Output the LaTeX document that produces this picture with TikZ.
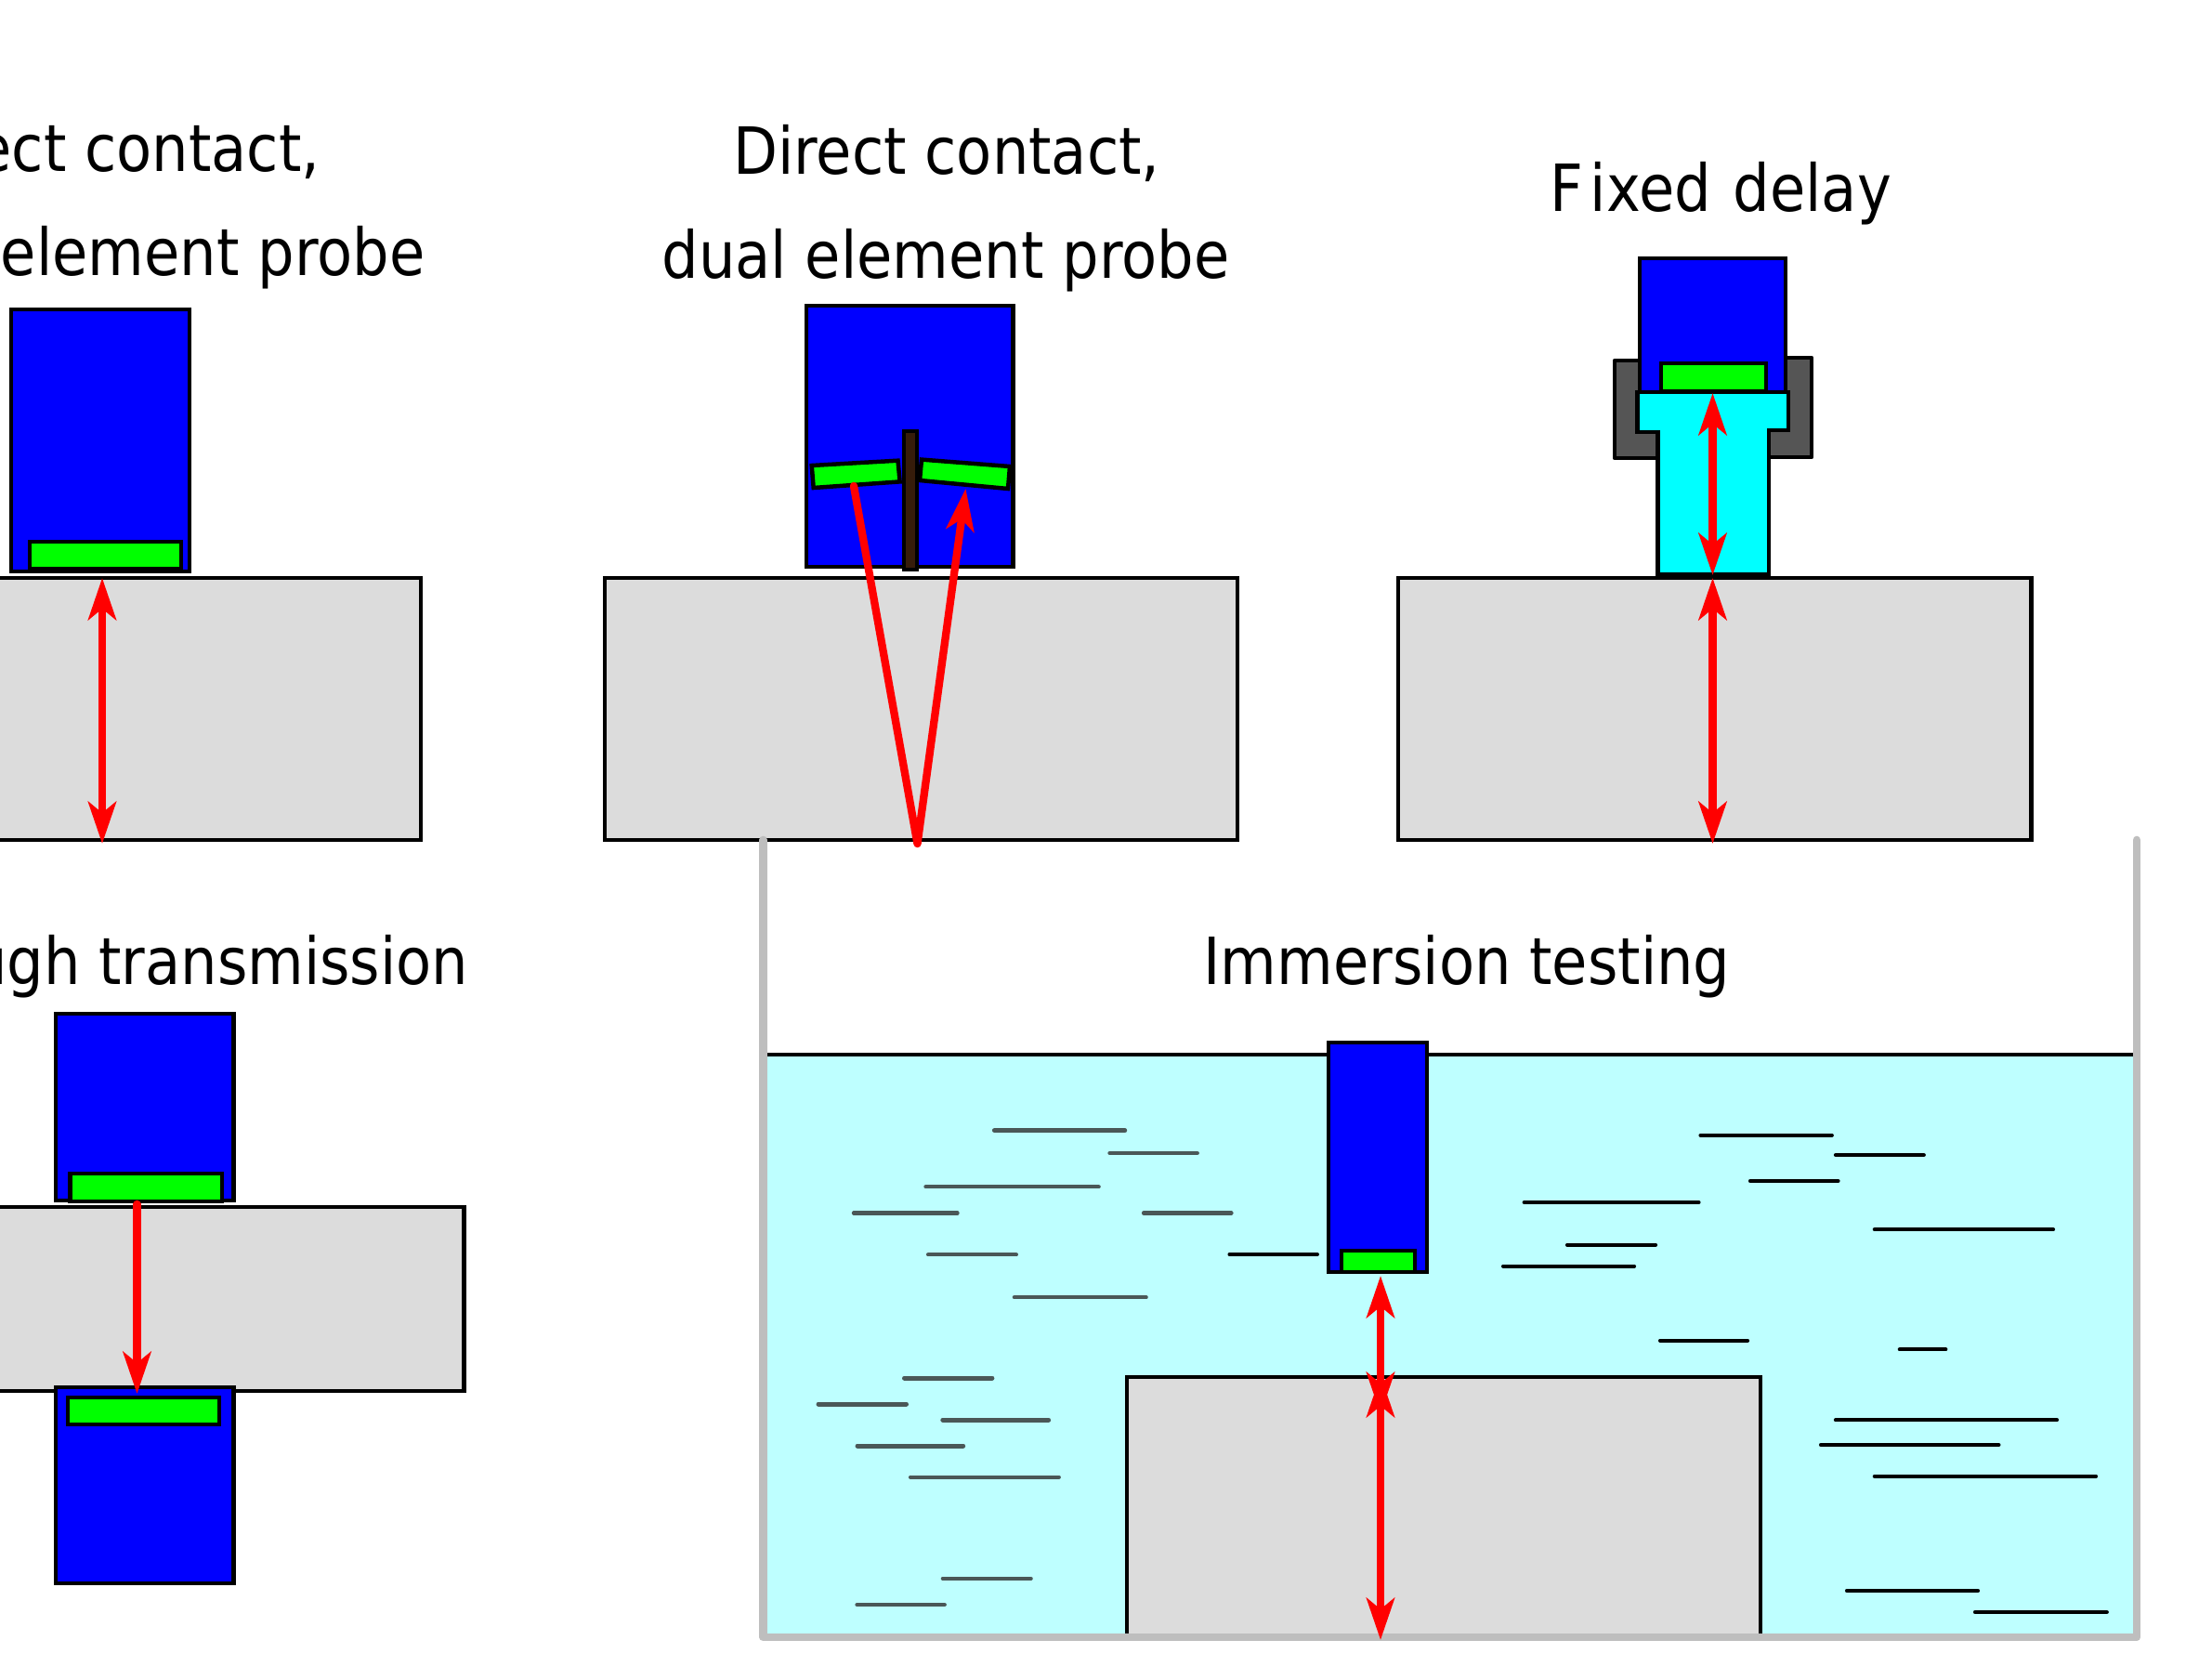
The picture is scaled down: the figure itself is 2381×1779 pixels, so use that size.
\documentclass[tikz,border=0pt]{standalone}
\usepackage{fontspec}
\setmainfont[FakeStretch=0.89]{DejaVu Sans}
\usetikzlibrary{arrows.meta}
\definecolor{probeblue}{HTML}{0000FF}
\definecolor{elemgreen}{HTML}{00FF00}
\definecolor{partgrey}{HTML}{DCDCDC}
\definecolor{holdergrey}{HTML}{555555}
\definecolor{delaycyan}{HTML}{00FFFF}
\definecolor{watercyan}{HTML}{BEFFFF}
\definecolor{tankgrey}{HTML}{BEBEBE}
\definecolor{dividerbrown}{HTML}{361C0A}
\definecolor{ripplegrey}{HTML}{4A5757}
\tikzset{
  x=0.3pt,y=-0.3pt,
  outlined/.style={draw=black,line width=1.35pt,line join=miter},
  part/.style={outlined,fill=partgrey},
  probe/.style={outlined,fill=probeblue},
  element/.style={outlined,fill=elemgreen},
  holder/.style={outlined,fill=holdergrey,line join=round},
  delay/.style={outlined,fill=delaycyan},
  redtip/.tip={Stealth[length=13.5pt,width=9pt,inset=3.6pt]},
  wave/.style={draw=red,line width=2.5pt},
  ripple/.style={draw=ripplegrey,line width=1.25pt,line cap=round},
  ripplek/.style={draw=black,line width=1.25pt,line cap=round},
  caption/.style={font=\fontsize{21pt}{21pt}\selectfont,inner sep=0pt,anchor=base}
}
\begin{document}
\begin{tikzpicture}
\useasboundingbox (0,0) rectangle (2381,1779);
% captions
\node[caption,anchor=base east] (t1a) at (345,185) {Direct contact,};
\node[caption,anchor=base east] (t1b) at (458,297) {single element probe};
\node[caption] (t2a) at (1019,188) {Direct contact,};
\node[caption] (t2b) at (1018,300) {dual element probe};
\node[caption] (t3) at (1852,228) {F\kern2.4pt ixed\kern1.2pt\ delay};
\node[caption,anchor=base east] (t4) at (505,1059) {Through transmission};
\node[caption] (t5) at (1579,1059) {Immersion testing};
% panel 1
\draw[part] (-20,622) rectangle (453,904);
\draw[probe] (12,333) rectangle (204,615);
\draw[element] (32,583) rectangle (195,612);
\coordinate (a1t) at (110,622);
\coordinate (a1b) at (110,908);
\draw[wave,{redtip}-{redtip}] (a1t) -- (a1b);
% panel 2
\draw[part] (651,622) rectangle (1332,904);
\draw[probe] (868,329) rectangle (1090.5,610);
\draw[element] (873.7,501) -- (966.5,495.7) -- (968.6,518.4) -- (875.7,525) -- cycle;
\draw[element] (992,494.6) -- (1087,502) -- (1085,526) -- (990,517) -- cycle;
\draw[outlined,fill=dividerbrown] (973,464) rectangle (987,613);
\coordinate (a2s) at (919,523);
\coordinate (a2v) at (987.5,908);
\coordinate (a2e) at (1039.5,526);
\draw[wave,line cap=round,line join=round,-{redtip}] (a2s) -- (a2v) -- (a2e);
% panel 3
\draw[part] (1505,622) rectangle (2186.5,904);
\draw[holder] (1738,388) -- (1790,388) -- (1790,493) -- (1738,493) -- cycle;
\draw[holder] (1900,385) -- (1950,385) -- (1950,492) -- (1900,492) -- cycle;
\draw[probe] (1765,278) rectangle (1922,425);
\draw[element] (1788,391) rectangle (1901,421);
\draw[delay] (1762.6,422) -- (1762.6,465) -- (1784.7,465) -- (1784.7,618) -- (1904,618) -- (1904,463) -- (1925,463) -- (1925,422) -- cycle;
\coordinate (a3a) at (1843.5,423);
\coordinate (a3b) at (1843.5,619);
\coordinate (a3c) at (1843.5,622);
\coordinate (a3d) at (1843.5,908);
\draw[wave,{redtip}-{redtip}] (a3a) -- (a3b);
\draw[wave,{redtip}-{redtip}] (a3c) -- (a3d);
% panel 4
\draw[part] (-20,1299) rectangle (499.5,1497);
\draw[probe] (60,1091) rectangle (251.5,1292);
\draw[element] (75.5,1263) rectangle (239,1293);
\draw[probe] (60,1493) rectangle (251.5,1704);
\draw[element] (73,1504) rectangle (236,1533);
\coordinate (a4s) at (147.5,1296);
\coordinate (a4e) at (147.5,1500);
\draw[wave,line cap=round,-{redtip}] (a4s) -- (a4e);
% panel 5: water
\fill[watercyan] (821.5,1135) rectangle (2300,1762);
\draw[outlined] (821.5,1135) -- (2300,1135);
\begin{scope}[shift={(0,1)}]
\draw[ripple,line width=1.5pt] (1070.4,1215.7) -- (1210.7,1215.7);
\draw[ripple] (1194.4,1240) -- (1288.8,1240);
\draw[ripple] (996.4,1276.4) -- (1182.7,1276.4);
\draw[ripple] (918.9,1304.5) -- (1030.6,1304.5);
\draw[ripple] (1231,1304.5) -- (1325.5,1304.5);
\draw[ripple] (999,1349.4) -- (1093.9,1349.4);
\draw[ripplek] (1323.5,1349) -- (1417.9,1349);
\draw[ripple] (1091.8,1395.3) -- (1233.7,1395.3);
\draw[ripple,line width=1.5pt] (973.5,1482) -- (1067.9,1482);
\draw[ripple,line width=1.5pt] (881,1510) -- (975.5,1510);
\draw[ripple,line width=1.5pt] (1014.8,1527) -- (1128.6,1527);
\draw[ripple,line width=1.5pt] (923,1555) -- (1036.7,1555);
\draw[ripple] (980,1588.7) -- (1139.8,1588.7);
\draw[ripple] (1014.8,1697.9) -- (1109.7,1697.9);
\draw[ripple] (922.4,1726) -- (1016.8,1726);
\draw[ripplek] (1830.5,1220.8) -- (1971.8,1220.8);
\draw[ripplek] (1975.9,1242) -- (2070.8,1242);
\draw[ripplek] (1884,1270) -- (1978.5,1270);
\draw[ripplek] (1640.7,1293) -- (1828.5,1293);
\draw[ripplek] (2017.8,1322.3) -- (2210,1322.3);
\draw[ripplek] (1687,1338.7) -- (1782,1338.7);
\draw[ripplek] (1618,1361.6) -- (1759,1361.6);
\draw[ripplek] (1787,1441.7) -- (1881,1441.7);
\draw[ripplek] (2044.8,1451.4) -- (2094.3,1451.4);
\draw[ripplek] (1975.9,1527.4) -- (2214,1527.4);
\draw[ripplek] (1960,1554) -- (2151.4,1554);
\draw[ripplek] (2017.8,1587.7) -- (2256,1587.7);
\draw[ripplek] (1988,1711) -- (2129,1711);
\draw[ripplek] (2126,1734) -- (2267.8,1734);
\end{scope}
% immersion part, probe, tank
\draw[part] (1213,1482) rectangle (1895,1762);
\draw[probe] (1430,1122) rectangle (1536,1369);
\draw[element] (1444,1346) rectangle (1523,1369);
\draw[draw=tankgrey,line width=2.6pt,line cap=round,line join=round] (821.5,904) -- (821.5,1762) -- (2300,1762) -- (2300,904);
\coordinate (a5a) at (1486,1373);
\coordinate (a5b) at (1486,1522);
\coordinate (a5c) at (1486,1480);
\coordinate (a5d) at (1486,1765);
\draw[wave,{redtip}-{redtip}] (a5a) -- (a5b);
\draw[wave,{redtip}-{redtip}] (a5c) -- (a5d);
\end{tikzpicture}
\end{document}
